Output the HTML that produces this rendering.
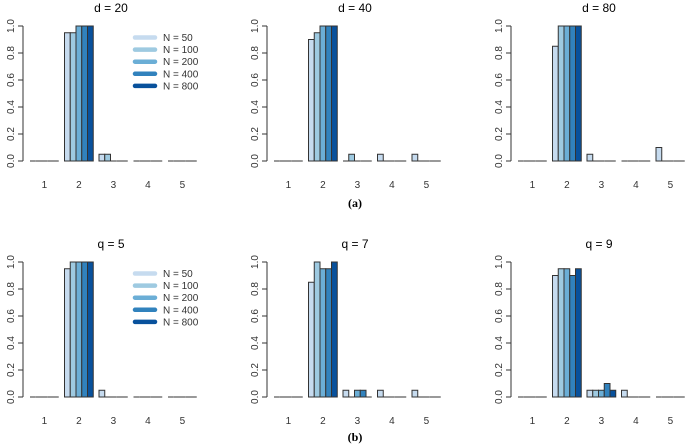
<!DOCTYPE html>
<html><head><meta charset="utf-8"><style>
body{margin:0;background:#fff}
svg{display:block;font-family:"Liberation Sans",sans-serif}
</style></head><body>
<svg id="c" width="685" height="445" viewBox="0 0 685 445"></svg>
<script>
const categories=[1,2,3,4,5];
const seriesNames=["N = 50","N = 100","N = 200","N = 400","N = 800"];
const titles=["d = 20","d = 40","d = 80","q = 5","q = 7","q = 9"];
const yTicks=[0,0.2,0.4,0.6,0.8,1.0];
const yTickLabels=["0.0","0.2","0.4","0.6","0.8","1.0"];
// values[panel][group][series]
const d20=[[0,0,0,0,0],[.95,.95,1,1,1],[.05,.05,0,0,0],[0,0,0,0,0],[0,0,0,0,0]];
const d40=[[0,0,0,0,0],[.9,.95,1,1,1],[0,.05,0,0,0],[.05,0,0,0,0],[.05,0,0,0,0]];
const d80=[[0,0,0,0,0],[.85,1,1,1,1],[.05,0,0,0,0],[0,0,0,0,0],[.1,0,0,0,0]];
const q5=[[0,0,0,0,0],[.95,1,1,1,1],[.05,0,0,0,0],[0,0,0,0,0],[0,0,0,0,0]];
const q7=[[0,0,0,0,0],[.85,1,.95,.95,1],[.05,0,.05,.05,0],[.05,0,0,0,0],[.05,0,0,0,0]];
const q9=[[0,0,0,0,0],[.9,.95,.95,.9,.95],[.05,.05,.05,.1,.05],[.05,0,0,0,0],[0,0,0,0,0]];
const panels=[d20,d40,d80,q5,q7,q9];
const colors=["#c6dbef","#9ecae1","#6baed6","#3182bd","#08519c"];
const NS="http://www.w3.org/2000/svg";
const svg=document.getElementById('c');
function mk(t,a,p){const e=document.createElementNS(NS,t);for(const k in a)e.setAttribute(k,a[k]);(p||svg).appendChild(e);return e;}
const unit=5.75;
panels.forEach((data,pi)=>{
  const ox=23+244*(pi%3), oy=pi<3?0:236;
  const g=mk('g',{});
  
  
  const y0=161+oy, y1=26+oy;
  const ys=v=>y0-(y0-y1)*v;
  const xs=(gi,si)=>ox+7+gi*6*unit+si*unit;
  const t=mk('text',{x:ox+88,y:12+oy,'text-anchor':'middle','font-size':12,fill:'#000'},g);
  t.textContent=titles[pi];
  
  
  const ax=mk('path',{d:`M${ox} ${y0}V${y1}`,stroke:'#333',fill:'none'},g);
  
  
  yTicks.forEach((v,i)=>{
    mk('path',{d:`M${ox-5} ${ys(v)}H${ox}`,stroke:'#333'},g);
    const l=mk('text',{x:0,y:0,transform:`translate(${ox-9},${ys(v)}) rotate(-90)`,'text-anchor':'middle','font-size':10,fill:'#333'},g);
    l.textContent=yTickLabels[i];
    
    
  });
  data.forEach((grp,gi)=>{
    grp.forEach((v,si)=>{
      let r;
      if(v>0){
        r=mk('rect',{x:xs(gi,si),y:ys(v),width:unit,height:y0-ys(v),fill:colors[si],stroke:'#333','stroke-width':1},g);
      } else {
        r=mk('path',{d:`M${xs(gi,si)} ${y0}H${xs(gi,si)+unit}`,stroke:'#333','stroke-width':1},g);
      }
      
      
    });
    const c=mk('text',{x:xs(gi,2.5),y:y0+27,'text-anchor':'middle','font-size':10,fill:'#333'},g);
    c.textContent=categories[gi];
    
    
  });
  if(pi%3===0){
    const lg=mk('g',{},g);
    
    
    seriesNames.forEach((n,i)=>{
      const yy=37.5+oy+i*12.1;
      mk('path',{d:`M${ox+112} ${yy}H${ox+132}`,stroke:colors[i],'stroke-width':4.5,'stroke-linecap':'round'},lg);
      const tx=mk('text',{x:ox+140,y:yy+3.5,'font-size':10,fill:'#333'},lg);
      tx.textContent=n;
      
      
    });
  }
});
[["(a)",207],["(b)",441]].forEach(([s,y])=>{
  const t=mk('text',{x:355,y:y,'text-anchor':'middle','font-size':12,'font-weight':'bold','font-family':'Liberation Serif, serif'});
  t.textContent=s;
  
  
});
</script>
</body></html>
